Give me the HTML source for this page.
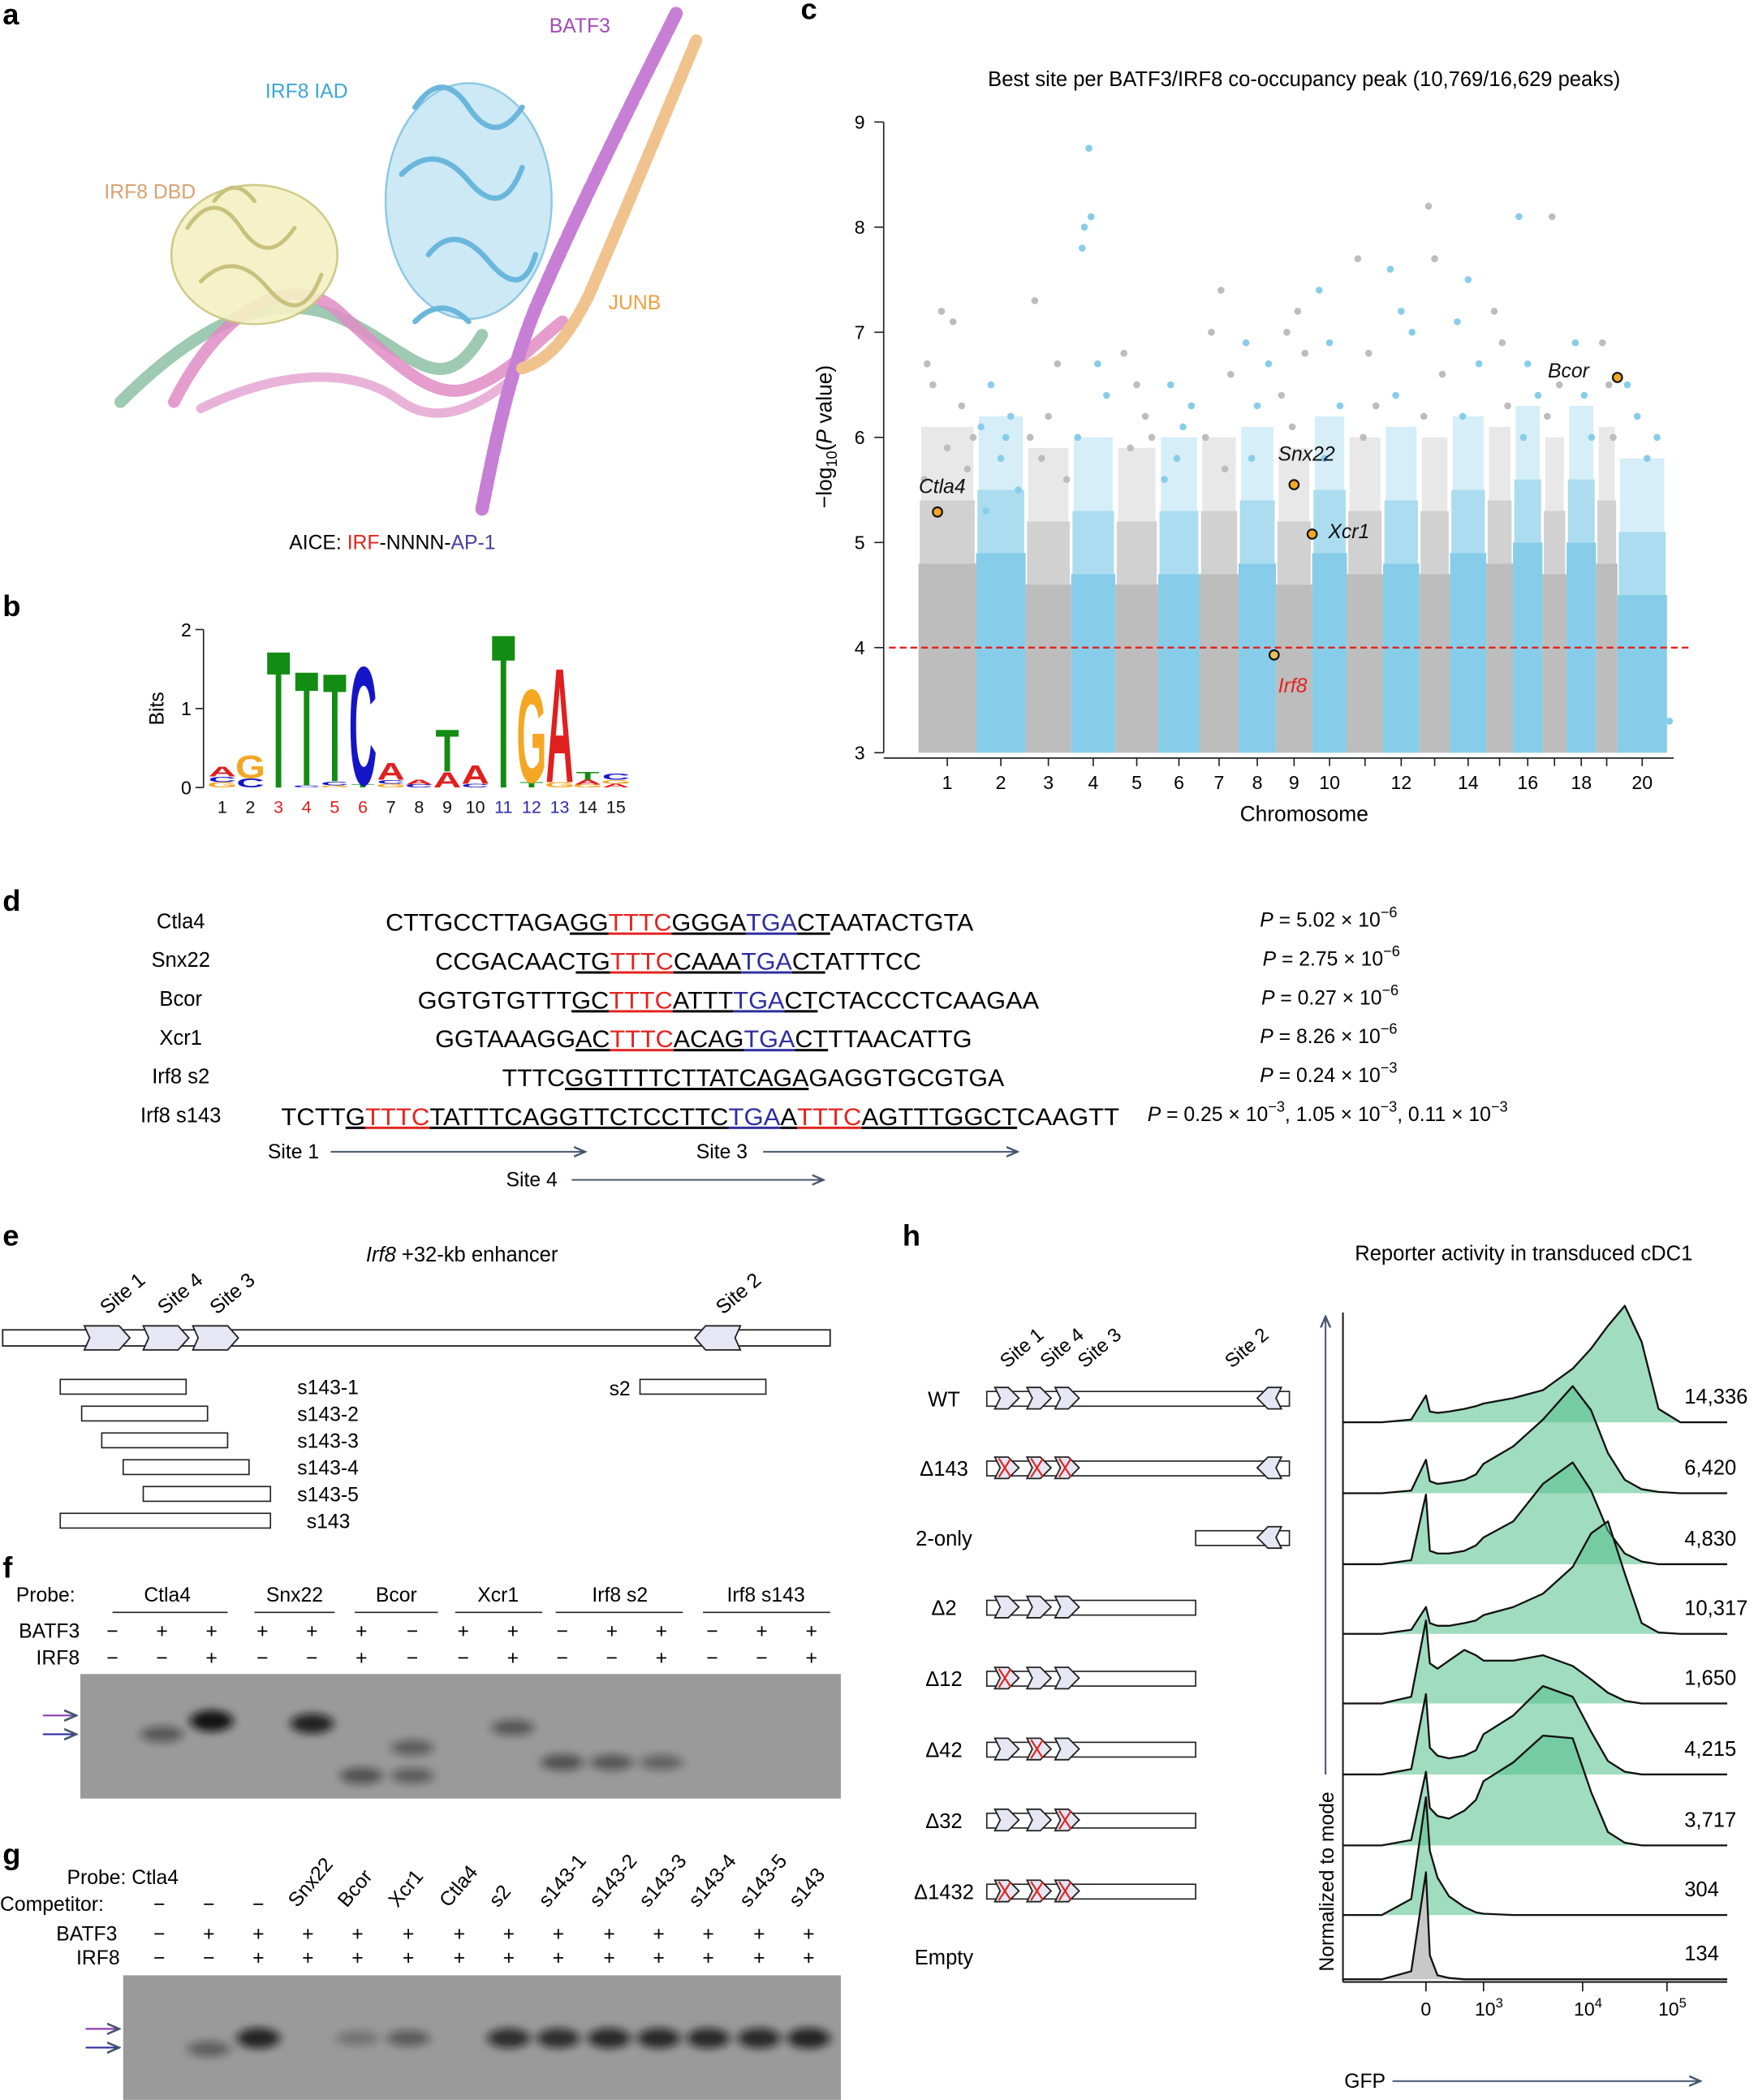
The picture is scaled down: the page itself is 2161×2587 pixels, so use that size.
<!DOCTYPE html>
<html><head><meta charset="utf-8"><style>
html,body{margin:0;padding:0;background:#fff}
svg{display:block;font-family:"Liberation Sans",sans-serif}
.pl{font-weight:bold;font-size:22px}
</style></head><body>
<svg id="fig" width="2161" height="2587" viewBox="0 0 1310 1568" xmlns="http://www.w3.org/2000/svg">
<defs>
<filter id="blur" x="-50%" y="-150%" width="200%" height="400%"><feGaussianBlur stdDeviation="3.5 3"/></filter>
<marker id="arr" markerWidth="8" markerHeight="8" refX="7" refY="4" orient="auto"><path d="M0,1 L7,4 L0,7" fill="none" stroke="#45556b" stroke-width="1.2"/></marker>
</defs>
<rect width="1310" height="1568" fill="#fff"/>
<text class="pl" x="2" y="18">a</text>
<text class="pl" x="2" y="460">b</text>
<text class="pl" x="598" y="14">c</text>
<text class="pl" x="2" y="680">d</text>
<text class="pl" x="2" y="930">e</text>
<text class="pl" x="2" y="1178">f</text>
<text class="pl" x="2" y="1392">g</text>
<text class="pl" x="674" y="930">h</text>

<g fill="none" stroke-linecap="round">
<path d="M90,300 C140,250 200,210 260,240 C310,265 330,300 360,250" stroke="#8dbfa5" stroke-width="9" opacity="0.85"/>
<path d="M130,300 C160,240 210,200 250,230 C290,265 320,300 350,290 C380,280 400,255 420,240" stroke="#e08cc4" stroke-width="9" opacity="0.85"/>
<path d="M150,305 C200,280 260,270 300,300 C330,320 360,300 380,285" stroke="#e3a0cf" stroke-width="7" opacity="0.8"/>
<ellipse cx="190" cy="190" rx="62" ry="52" fill="#f5f1c4" stroke="#c9c47a" stroke-width="1.5" opacity="0.9"/>
<path d="M140,170 q20,-30 40,0 t40,0 M150,210 q25,-25 50,5 t40,-10 M160,150 q15,-20 30,0" stroke="#c8c27e" stroke-width="3"/>
<ellipse cx="350" cy="150" rx="62" ry="88" fill="#c5e6f5" stroke="#7bbfe0" stroke-width="1.5" opacity="0.85"/>
<path d="M310,80 q20,-30 40,0 t40,0 M300,130 q25,-25 50,5 t40,-10 M320,190 q20,-25 45,5 t35,-5 M310,240 q20,-20 40,0" stroke="#6bb7dc" stroke-width="4"/>
<path d="M505,10 C470,80 430,160 400,230 C380,280 370,330 360,380" stroke="#c77fd6" stroke-width="10" stroke-dasharray="6 3"/>
<path d="M520,30 C495,90 470,150 440,220 C420,260 405,270 390,275" stroke="#f0c38e" stroke-width="9" stroke-dasharray="6 3"/>
</g>
<text x="433" y="24" font-size="15" fill="#a44bb7" text-anchor="middle">BATF3</text>
<text x="229" y="73" font-size="15" fill="#3aa7db" text-anchor="middle">IRF8 IAD</text>
<text x="112" y="148" font-size="15" fill="#d9a070" text-anchor="middle">IRF8 DBD</text>
<text x="474" y="231" font-size="15" fill="#f0a040" text-anchor="middle">JUNB</text>
<text x="293" y="410" font-size="15" text-anchor="middle">AICE: <tspan fill="#e0251f">IRF</tspan>-NNNN-<tspan fill="#4a3fa0">AP-1</tspan></text>

<g id="logo"></g>
<g id="manh"></g>
<g id="paneld" font-size="17.5"></g>
<g id="panele"></g>
<g id="panelf"></g>
<g id="panelg"></g>
<g id="panelh"></g>
</svg>
<script>
const NS='http://www.w3.org/2000/svg';
function mk(parent,tag,attrs,text){const e=document.createElementNS(NS,tag);for(const k in attrs)e.setAttribute(k,attrs[k]);if(text!==undefined)e.textContent=text;parent.appendChild(e);return e;}

/* ---------- Manhattan data ---------- */
const chromLabels=['1','2','3','4','5','6','7','8','9','10','11','12','13','14','15','16','17','18','19','20'];
const chromLengths=[43,37,34,33,32,31,29,28,27,26,27,27,23,27,20,22,18,22,16,37];
const tickShown=['1','2','3','4','5','6','7','8','9','10','12','14','16','18','20'];
const denseTop=[4.8,4.9,4.6,4.7,4.6,4.7,4.7,4.8,4.6,4.9,4.7,4.8,4.7,4.9,4.8,5.0,4.7,5.0,4.8,4.5];
const yTicks=[3,4,5,6,7,8,9];
const threshold=4;
const outliers=[
[0,0.15,6.7],[0,0.4,7.2],[0,0.6,7.1],[0,0.25,6.5],[0,0.75,6.3],[0,0.85,5.7],[0,0.5,5.9],[0,0.1,5.6],[0,0.95,6.0],
[1,0.1,6.1],[1,0.3,6.5],[1,0.5,5.8],[1,0.7,6.2],[1,0.85,5.5],[1,0.2,5.3],[1,0.6,6.0],
[2,0.2,7.3],[2,0.5,6.2],[2,0.7,6.7],[2,0.35,5.8],[2,0.9,5.6],[2,0.1,6.0],
[3,0.3,8.0],[3,0.45,8.1],[3,0.25,7.8],[3,0.6,6.7],[3,0.8,6.4],[3,0.4,8.75],[3,0.15,6.0],
[4,0.2,6.8],[4,0.5,6.5],[4,0.7,6.2],[4,0.35,5.9],[4,0.85,6.0],
[5,0.3,6.5],[5,0.6,6.1],[5,0.8,6.3],[5,0.15,5.6],[5,0.45,5.8],
[6,0.3,7.0],[6,0.55,7.4],[6,0.8,6.6],[6,0.15,6.0],[6,0.65,5.7],
[7,0.2,6.9],[7,0.5,6.3],[7,0.8,6.7],[7,0.35,5.8],
[8,0.3,7.0],[8,0.6,7.2],[8,0.8,6.8],[8,0.45,6.1],[8,0.15,6.4],
[9,0.2,7.4],[9,0.5,6.9],[9,0.8,6.3],[9,0.35,5.8],
[10,0.3,7.7],[10,0.6,6.8],[10,0.8,6.3],[10,0.45,6.0],
[11,0.2,7.6],[11,0.5,7.2],[11,0.8,7.0],[11,0.35,6.4],
[12,0.3,8.2],[12,0.5,7.7],[12,0.75,6.6],[12,0.15,6.2],
[13,0.2,7.1],[13,0.5,7.5],[13,0.8,6.7],[13,0.35,6.2],
[14,0.3,7.2],[14,0.6,6.9],[14,0.8,6.3],
[15,0.2,8.1],[15,0.5,6.7],[15,0.85,6.4],[15,0.35,6.0],
[16,0.4,8.1],[16,0.7,6.5],[16,0.2,6.2],
[17,0.3,6.9],[17,0.6,6.4],[17,0.85,6.0],
[18,0.3,6.9],[18,0.6,6.5],[18,0.8,6.0],
[19,0.2,6.5],[19,0.4,6.2],[19,0.6,5.8],[19,0.8,6.0],[19,1.05,3.3]];
const highlights=[['Ctla4',0,0.33,5.29],['Snx22',8,0.5,5.55],['Xcr1',9,0.0,5.08],['Bcor',19,0.0,6.57],['Irf8',7,0.95,3.93]];

(function(){
 const g=document.getElementById('manh');
 const X0=686,X1=1245,Ytop=91,Ybot=562;
 const total=chromLengths.reduce((a,b)=>a+b,0);
 const starts=[];let acc=0;chromLengths.forEach(l=>{starts.push(acc);acc+=l;});
 const xs=(ci,f)=>X0+(starts[ci]+f*chromLengths[ci])/total*(X1-X0);
 const ys=v=>Ybot-(v-3)/6*(Ybot-Ytop);
 const col=ci=>ci%2===0?'#bdbdbd':'#87cdea';
 const t=mk(g,'text',{x:974,y:64,'font-size':15.5,'text-anchor':'middle'},'Best site per BATF3/IRF8 co-occupancy peak (10,769/16,629 peaks)');
 
 
 chromLabels.forEach((c,ci)=>{
  const xa=xs(ci,0),xb=xs(ci,1);
  const r=mk(g,'rect',{x:xa,y:ys(denseTop[ci]),width:xb-xa,height:ys(3)-ys(denseTop[ci]),fill:col(ci)});
  
  
  const r2=mk(g,'rect',{x:xa+1,y:ys(denseTop[ci]+0.6),width:xb-xa-2,height:ys(denseTop[ci])-ys(denseTop[ci]+0.6),fill:col(ci),opacity:0.7});
  
  
  const r3=mk(g,'rect',{x:xa+2,y:ys(denseTop[ci]+1.3),width:xb-xa-4,height:ys(denseTop[ci]+0.6)-ys(denseTop[ci]+1.3),fill:col(ci),opacity:0.35});
  
  
 });
 outliers.forEach(o=>{
  const p=mk(g,'circle',{cx:xs(o[0],o[1]),cy:ys(o[2]),r:2.6,fill:col(o[0])});
  
  
 });
 const th=mk(g,'line',{x1:664,x2:1262,y1:ys(threshold),y2:ys(threshold),stroke:'#e3231f','stroke-width':1.4,'stroke-dasharray':'5 3'});
 
 
 const ya=mk(g,'line',{x1:660,x2:660,y1:Ytop,y2:Ybot,stroke:'#222','stroke-width':1});
 
 
 yTicks.forEach(v=>{
  mk(g,'line',{x1:653,x2:660,y1:ys(v),y2:ys(v),stroke:'#222'});
  const l=mk(g,'text',{x:646,y:ys(v)+5,'font-size':14,'text-anchor':'end'},v);
  
  
 });
 const xa=mk(g,'line',{x1:660,x2:1250,y1:566,y2:566,stroke:'#222'});
 
 
 chromLabels.forEach((c,ci)=>{
  const cx=xs(ci,0.5);
  mk(g,'line',{x1:cx,x2:cx,y1:566,y2:572,stroke:'#222'});
  if(tickShown.includes(c)){
   const l=mk(g,'text',{x:cx,y:589,'font-size':14,'text-anchor':'middle'},c);
   
   
  }
 });
 const xt=mk(g,'text',{x:974,y:613,'font-size':16,'text-anchor':'middle'},'Chromosome');
 
 
 const yt=mk(g,'text',{x:0,y:0,'font-size':16,'text-anchor':'middle',transform:'translate(621,326) rotate(-90)'});
 yt.innerHTML='−log<tspan font-size="11" dy="4">10</tspan><tspan dy="-4">(</tspan><tspan font-style="italic">P</tspan> value)';
 
 
 highlights.forEach(h=>{
  const cx=xs(h[1],h[2]),cy=ys(h[3]);
  const c=mk(g,'circle',{cx:cx,cy:cy,r:3.5,fill:h[0]==='Irf8'?'#e8c060':'#f5a623',stroke:'#111','stroke-width':1.3});
  
  
  let tx=cx+5,ty=cy-18,fill='#111';
  if(h[0]==='Ctla4'){tx=cx-14;ty=cy-14;}
  if(h[0]==='Snx22'){tx=cx-12;ty=cy-18;}
  if(h[0]==='Xcr1'){tx=cx+12;ty=cy+3;}
  if(h[0]==='Bcor'){tx=cx-52;ty=cy-0;}
  if(h[0]==='Irf8'){tx=cx+3;ty=cy+28;fill='#e3231f';}
  const l=mk(g,'text',{x:tx,y:ty,'font-size':15,'font-style':'italic',fill:fill},h[0]);
  
  
 });
})();

/* ---------- Logo ---------- */
const logoCols=[
 [['G',0.07,'#f5a623'],['C',0.07,'#1515c8'],['A',0.13,'#e01f1f']],
 [['C',0.12,'#1515c8'],['G',0.3,'#f5a623']],
 [['T',1.8,'#128c12']],
 [['C',0.03,'#1515c8'],['T',1.5,'#128c12']],
 [['G',0.03,'#f5a623'],['C',0.05,'#1515c8'],['T',1.42,'#128c12']],
 [['T',0.04,'#128c12'],['C',1.55,'#1515c8']],
 [['G',0.05,'#f5a623'],['C',0.05,'#1515c8'],['A',0.22,'#e01f1f']],
 [['C',0.04,'#1515c8'],['A',0.06,'#e01f1f']],
 [['A',0.2,'#e01f1f'],['T',0.55,'#128c12']],
 [['C',0.05,'#1515c8'],['A',0.24,'#e01f1f']],
 [['T',2.02,'#128c12']],
 [['T',0.07,'#128c12'],['G',1.22,'#f5a623']],
 [['G',0.07,'#f5a623'],['A',1.5,'#e01f1f']],
 [['G',0.04,'#f5a623'],['A',0.06,'#e01f1f'],['T',0.1,'#128c12']],
 [['A',0.05,'#e01f1f'],['G',0.05,'#f5a623'],['C',0.08,'#1515c8']]];
const logoPosLabels=['1','2','3','4','5','6','7','8','9','10','11','12','13','14','15'];
const logoPosColors=['#111','#111','#e01f1f','#e01f1f','#e01f1f','#e01f1f','#111','#111','#111','#111','#2b2ba8','#2b2ba8','#2b2ba8','#111','#111'];
(function(){
 const g=document.getElementById('logo');
 const y0=588,ppb=59,x0=166,dx=21;
 mk(g,'line',{x1:152,x2:152,y1:470,y2:588,stroke:'#222'});
 [0,1,2].forEach(b=>{mk(g,'line',{x1:146,x2:152,y1:y0-b*ppb,y2:y0-b*ppb,stroke:'#222'});
  const l=mk(g,'text',{x:143,y:y0-b*ppb+5,'font-size':14,'text-anchor':'end'},b);
  
  });
 const yt=mk(g,'text',{transform:'translate(122,529) rotate(-90)','font-size':15,'text-anchor':'middle'},'Bits');
 
 
 logoCols.forEach((col,i)=>{
  const cx=x0+i*dx;let base=y0;
  col.forEach(([ch,h,c])=>{
   const hp=h*ppb; if(hp<0.5)return;
   const w=19, sx=w/66, sy=hp/72.5;
   const t=mk(g,'text',{x:0,y:0,'font-size':100,'font-weight':'bold',fill:c,'text-anchor':'middle',transform:`translate(${cx},${base}) scale(${sx},${sy})`},ch);
   
   
   base-=hp;
  });
  const l=mk(g,'text',{x:cx,y:607,'font-size':13,'text-anchor':'middle',fill:logoPosColors[i]},logoPosLabels[i]);
  
  
 });
})();

/* ---------- Panel d ---------- */
(function(){
 const g=document.getElementById('paneld');
 const rows=[
  ['Ctla4',688,288,727,[['CTTGCCTTAGA',''],['GG','u'],['TTTC','ur'],['GGGA','u'],['TGA','ub'],['CT','u'],['AATACTGTA','']],'<tspan font-style="italic">P</tspan> = 5.02 × 10<tspan font-size="11" dy="-7">−6</tspan>',941],
  ['Snx22',717,325,688,[['CCGACAAC',''],['TG','u'],['TTTC','ur'],['CAAA','u'],['TGA','ub'],['CT','u'],['ATTTCC','']],'<tspan font-style="italic">P</tspan> = 2.75 × 10<tspan font-size="11" dy="-7">−6</tspan>',943],
  ['Bcor',746,312,776,[['GGTGTGTTT',''],['GC','u'],['TTTC','ur'],['ATTT','u'],['TGA','ub'],['CT','u'],['CTACCCTCAAGAA','']],'<tspan font-style="italic">P</tspan> = 0.27 × 10<tspan font-size="11" dy="-7">−6</tspan>',942],
  ['Xcr1',775,325,726,[['GGTAAAGG',''],['AC','u'],['TTTC','ur'],['ACAG','u'],['TGA','ub'],['CT','u'],['TTAACATTG','']],'<tspan font-style="italic">P</tspan> = 8.26 × 10<tspan font-size="11" dy="-7">−6</tspan>',941],
  ['Irf8 s2',804,375,750,[['TTTC',''],['GGTTTTCTTATCAGA','u'],['GAGGTGCGTGA','']],'<tspan font-style="italic">P</tspan> = 0.24 × 10<tspan font-size="11" dy="-7">−3</tspan>',941],
  ['Irf8 s143',833,210,836,[['TCTT',''],['G','u'],['TTTC','ur'],['TATTTCAGGTTCTCCTTC','u'],['TGA','ub'],['A','u'],['TTTC','ur'],['AGTTTGGCT','u'],['CAAGTT','']],'<tspan font-style="italic">P</tspan> = 0.25 × 10<tspan font-size="11" dy="-7">−3</tspan><tspan dy="7">, 1.05 × 10</tspan><tspan font-size="11" dy="-7">−3</tspan><tspan dy="7">, 0.11 × 10</tspan><tspan font-size="11" dy="-7">−3</tspan>',857]];
 rows.forEach(r=>{
  const n=mk(g,'text',{x:135,y:r[1]+5,'font-size':15.5,'text-anchor':'middle'},r[0]);
  
  
  const t=mk(g,'text',{x:r[2],y:r[1]+7,textLength:r[3]-r[2],lengthAdjust:'spacingAndGlyphs','font-size':18});
  t.innerHTML=r[4].map(([s,f])=>`<tspan${f.includes('u')?' text-decoration="underline"':''}${f.includes('r')?' fill="#e3231f"':''}${f.includes('b')?' fill="#2e2ea0"':''}>${s}</tspan>`).join('');
  
  
  const p=mk(g,'text',{x:r[6],y:r[1]+4,'font-size':15});
  p.innerHTML=r[5];
  
  
 });
 [['Site 1',200,865,247,437],['Site 3',520,865,570,760],['Site 4',378,886,427,615]].forEach(s=>{
  const l=mk(g,'text',{x:s[1],y:s[2],'font-size':15},s[0]);
  
  
  mk(g,'line',{x1:s[3],x2:s[4],y1:s[2]-5,y2:s[2]-5,stroke:'#45556b','stroke-width':1.2,'marker-end':'url(#arr)'});
 });
})();

/* ---------- Panel e ---------- */
function siteShape(g,x,y,w,h,dir,crossed){
 let d;
 if(dir>0)d=`M${x},${y} L${x+w-8},${y} L${x+w},${y+h/2} L${x+w-8},${y+h} L${x},${y+h} L${x+4},${y+h/2} Z`;
 else d=`M${x+w},${y} L${x+8},${y} L${x},${y+h/2} L${x+8},${y+h} L${x+w},${y+h} L${x+w-4},${y+h/2} Z`;
 const p=mk(g,'path',{d:d,fill:'#e6e6f4',stroke:'#222','stroke-width':1.1});
 
 
 if(crossed){mk(g,'path',{d:`M${x+3},${y+1} L${x+w-6},${y+h-1} M${x+w-6},${y+1} L${x+3},${y+h-1}`,stroke:'#e3231f','stroke-width':1.3});}
}
(function(){
 const g=document.getElementById('panele');
 const t=mk(g,'text',{x:345,y:942,'font-size':15.5,'text-anchor':'middle'});
 t.innerHTML='<tspan font-style="italic">Irf8</tspan> +32-kb enhancer';
 
 
 mk(g,'rect',{x:2,y:993,width:618,height:12,fill:'#fff',stroke:'#222','stroke-width':1.1});
 siteShape(g,63,990,34,18,1);siteShape(g,107,990,34,18,1);siteShape(g,144,990,34,18,1);siteShape(g,519,990,34,18,-1);
 [['Site 1',80],['Site 4',123],['Site 3',162],['Site 2',540]].forEach(s=>{
  const l=mk(g,'text',{transform:`translate(${s[1]},982) rotate(-40)`,'font-size':15},s[0]);
  
  
 });
 [['s143-1',45,139,1030],['s143-2',61,155,1050],['s143-3',76,170,1070],['s143-4',92,186,1090],['s143-5',107,202,1110],['s143',45,202,1130]].forEach(f=>{
  const r=mk(g,'rect',{x:f[1],y:f[3],width:f[2]-f[1],height:11,fill:'#fff',stroke:'#222'});
  
  
  mk(g,'text',{x:f[0]==='s143'?229:222,y:f[3]+11,'font-size':15},f[0]);
 });
 mk(g,'rect',{x:478,y:1030,width:94,height:11,fill:'#fff',stroke:'#222'});
 mk(g,'text',{x:455,y:1042,'font-size':15},'s2');
})();

/* ---------- Panel f ---------- */
const fBatf3=['−','+','+','+','+','+','−','+','+','−','+','+','−','+','+'];
const fIrf8=['−','−','+','−','−','+','−','−','+','−','−','+','−','−','+'];
const fBands=[[1,1295,0.35],[2,1285,1],[4,1287,0.85],[5,1326,0.4],[6,1305,0.3],[6,1326,0.3],[8,1290,0.35],[9,1316,0.4],[10,1316,0.35],[11,1316,0.25]];
(function(){
 const g=document.getElementById('panelf');
 const xs=[84,121,158,196,233,270,308,346,383,420,457,494,532,569,606];
 mk(g,'text',{x:12,y:1196,'font-size':15},'Probe:');
 [['Ctla4',125,84,170],['Snx22',220,190,250],['Bcor',296,265,327],['Xcr1',372,340,405],['Irf8 s2',463,415,510],['Irf8 s143',572,525,620]].forEach(p=>{
  const l=mk(g,'text',{x:p[1],y:1196,'font-size':15,'text-anchor':'middle'},p[0]);
  
  
  mk(g,'line',{x1:p[2],x2:p[3],y1:1204,y2:1204,stroke:'#222'});
 });
 mk(g,'text',{x:14,y:1223,'font-size':15},'BATF3');
 mk(g,'text',{x:27,y:1243,'font-size':15},'IRF8');
 xs.forEach((x,i)=>{mk(g,'text',{x:x,y:1223,'font-size':15,'text-anchor':'middle'},fBatf3[i]);mk(g,'text',{x:x,y:1243,'font-size':15,'text-anchor':'middle'},fIrf8[i]);});
 const gel=mk(g,'rect',{x:60,y:1250,width:568,height:93,fill:'#9a9a9a'});
 
 
 fBands.forEach(b=>{
  const e=mk(g,'ellipse',{cx:xs[b[0]],cy:b[1],rx:16,ry:5+3*b[2],fill:'#111',opacity:0.2+0.75*b[2],filter:'url(#blur)'});
  
  
 });
 mk(g,'line',{x1:32,x2:57,y1:1281,y2:1281,stroke:'#8a3fb0','stroke-width':1.3,'marker-end':'url(#arr)'});
 mk(g,'line',{x1:32,x2:57,y1:1295,y2:1295,stroke:'#2e2ea0','stroke-width':1.3,'marker-end':'url(#arr)'});
})();

/* ---------- Panel g ---------- */
const gComp=['−','−','−','Snx22','Bcor','Xcr1','Ctla4','s2','s143-1','s143-2','s143-3','s143-4','s143-5','s143'];
const gBatf3=['−','+','+','+','+','+','+','+','+','+','+','+','+','+'];
const gIrf8=['−','−','+','+','+','+','+','+','+','+','+','+','+','+'];
const gBands=[[1,0.3],[2,0.9],[4,0.12],[5,0.35],[7,0.8],[8,0.8],[9,0.85],[10,0.85],[11,0.85],[12,0.85],[13,0.9]];
(function(){
 const g=document.getElementById('panelg');
 const xs=[119,156,193,230,267,305,343,380,417,455,492,529,567,604];
 mk(g,'text',{x:50,y:1407,'font-size':15},'Probe: Ctla4');
 mk(g,'text',{x:0,y:1427,'font-size':15},'Competitor:');
 mk(g,'text',{x:42,y:1449,'font-size':15},'BATF3');
 mk(g,'text',{x:57,y:1467,'font-size':15},'IRF8');
 xs.forEach((x,i)=>{
  if(gComp[i]==='−')mk(g,'text',{x:x,y:1427,'font-size':15,'text-anchor':'middle'},'−');
  else{const l=mk(g,'text',{transform:`translate(${x-8},1425) rotate(-50)`,'font-size':15},gComp[i]);
   
   }
  mk(g,'text',{x:x,y:1449,'font-size':15,'text-anchor':'middle'},gBatf3[i]);
  mk(g,'text',{x:x,y:1467,'font-size':15,'text-anchor':'middle'},gIrf8[i]);
 });
 const gel=mk(g,'rect',{x:92,y:1475,width:536,height:93,fill:'#9a9a9a'});
 
 
 gBands.forEach(b=>{
  const e=mk(g,'ellipse',{cx:xs[b[0]],cy:b[0]===1?1530:1522,rx:16,ry:5+3*b[1],fill:'#111',opacity:0.2+0.7*b[1],filter:'url(#blur)'});
  
  
 });
 mk(g,'line',{x1:64,x2:89,y1:1515,y2:1515,stroke:'#8a3fb0','stroke-width':1.3,'marker-end':'url(#arr)'});
 mk(g,'line',{x1:64,x2:89,y1:1529,y2:1529,stroke:'#2e2ea0','stroke-width':1.3,'marker-end':'url(#arr)'});
})();

/* ---------- Panel h ---------- */
const hRows=['WT','Δ143','2-only','Δ2','Δ12','Δ42','Δ32','Δ1432','Empty'];
const hMFI=['14,336','6,420','4,830','10,317','1,650','4,215','3,717','304','134'];
const hBins=[-0.6,-0.2,0,0.2,0.6,1.2,2,2.6,3,3.3,3.6,3.9,4.1,4.3,4.5,4.7,4.9,5.2];
const hWT=[0,2,20,8,7,8,10,12,14,18,24,40,55,72,87,60,10,0];
const hD143=[0,2,25,9,7,8,10,14,22,35,55,80,62,30,10,3,1,0];
const hTwo=[0,3,52,10,8,8,10,14,20,32,60,76,55,25,8,2,0,0];
const hD2=[0,3,20,8,6,6,8,10,14,20,30,50,75,84,45,8,1,0];
const hD12=[0,5,62,30,26,32,40,36,32,32,36,28,18,8,2,0,0,0];
const hD42=[0,4,60,20,14,12,14,18,30,44,66,58,32,10,2,0,0,0];
const hD32=[0,4,55,28,22,20,26,34,48,62,82,80,40,10,2,0,0,0];
const hD1432=[0,12,88,48,28,14,6,2,1,0,0,0,0,0,0,0,0,0];
const hEmpty=[0,6,80,18,3,1,0,0,0,0,0,0,0,0,0,0,0,0];
const hSeries=[hWT,hD143,hTwo,hD2,hD12,hD42,hD32,hD1432,hEmpty];
const hConstructs=[{s:[1,1,1],s2:1,left:737,right:963},{s:[2,2,2],s2:1,left:737,right:963},{s:[0,0,0],s2:1,left:893,right:963},{s:[1,1,1],s2:0,left:737,right:893},{s:[2,1,1],s2:0,left:737,right:893},{s:[1,2,1],s2:0,left:737,right:893},{s:[1,1,2],s2:0,left:737,right:893},{s:[2,2,2],s2:0,left:737,right:893},null];
(function(){
 const g=document.getElementById('panelh');
 const t=mk(g,'text',{x:1138,y:941,'font-size':15.5,'text-anchor':'middle'},'Reporter activity in transduced cDC1');
 
 
 const rowY=[1044,1096,1148,1200,1253,1306,1359,1412,1461];
 const base=[1062,1115,1168,1220,1272,1325,1378,1430,1478];
 [['Site 1',752],['Site 4',782],['Site 3',810],['Site 2',920]].forEach(s=>{
  const l=mk(g,'text',{transform:`translate(${s[1]},1022) rotate(-40)`,'font-size':14.5},s[0]);
  
  
 });
 hRows.forEach((name,i)=>{
  const l=mk(g,'text',{x:705,y:rowY[i]+6,'font-size':15.5,'text-anchor':'middle'},name);
  
  
  const c=hConstructs[i];
  if(c){
   const r=mk(g,'rect',{x:c.left,y:rowY[i]-5,width:c.right-c.left,height:11,fill:'#fff',stroke:'#222'});
   
   
   [743,767,788].forEach((x,k)=>{if(c.s[k])siteShape(g,x,rowY[i]-8,18,16,1,c.s[k]===2);});
   if(c.s2)siteShape(g,939,rowY[i]-8,18,16,-1);
  }
 });
 const bx=[-1,0,3,4,5,5.6],px=[1010,1065,1108,1182,1245,1275];
 const xs=u=>{for(let k=0;k<bx.length-1;k++){if(u<=bx[k+1])return px[k]+(u-bx[k])/(bx[k+1]-bx[k])*(px[k+1]-px[k]);}return px[px.length-1];};
 for(let i=0;i<hSeries.length;i++){
  const s=hSeries[i],b=base[i];
  let d=`M1003,${b} `;
  hBins.forEach((u,k)=>{d+=`L${xs(u).toFixed(1)},${(b-s[k]).toFixed(1)} `;});
  const area=mk(g,'path',{d:d+`L1270,${b} Z`,fill:i===8?'#c8c8c8':'#52c08a','fill-opacity':i===8?1:0.55,stroke:'none'});
  
  
  const ln=mk(g,'path',{d:d+`L1290,${b}`,fill:'none',stroke:'#111','stroke-width':1.4,'stroke-linejoin':'round'});
  
  
  const v=mk(g,'text',{x:1258,y:b-14,'font-size':15.5},hMFI[i]);
  
  
 }
 mk(g,'line',{x1:1003,x2:1003,y1:980,y2:1480,stroke:'#111','stroke-width':1.2});
 mk(g,'line',{x1:1003,x2:1290,y1:1480,y2:1480,stroke:'#111','stroke-width':1.2});
 [[0,'0'],[3,'10<tspan font-size="10" dy="-6">3</tspan>'],[4,'10<tspan font-size="10" dy="-6">4</tspan>'],[5,'10<tspan font-size="10" dy="-6">5</tspan>']].forEach(tk=>{
  mk(g,'line',{x1:xs(tk[0]),x2:xs(tk[0]),y1:1480,y2:1487,stroke:'#111'});
  const l=mk(g,'text',{x:xs(tk[0])+(tk[0]?4:0),y:1505,'font-size':14,'text-anchor':'middle'});
  l.innerHTML=tk[1];
  
  
 });
 const yl=mk(g,'text',{transform:'translate(996,1405) rotate(-90)','font-size':15,'text-anchor':'middle'},'Normalized to mode');
 
 
 mk(g,'line',{x1:990,x2:990,y1:1325,y2:983,stroke:'#45556b','stroke-width':1.2,'marker-end':'url(#arr)'});
 const gl=mk(g,'text',{x:1004,y:1559,'font-size':15},'GFP');
 
 
 mk(g,'line',{x1:1040,x2:1270,y1:1554,y2:1554,stroke:'#45556b','stroke-width':1.2,'marker-end':'url(#arr)'});
})();
</script>
</body></html>
